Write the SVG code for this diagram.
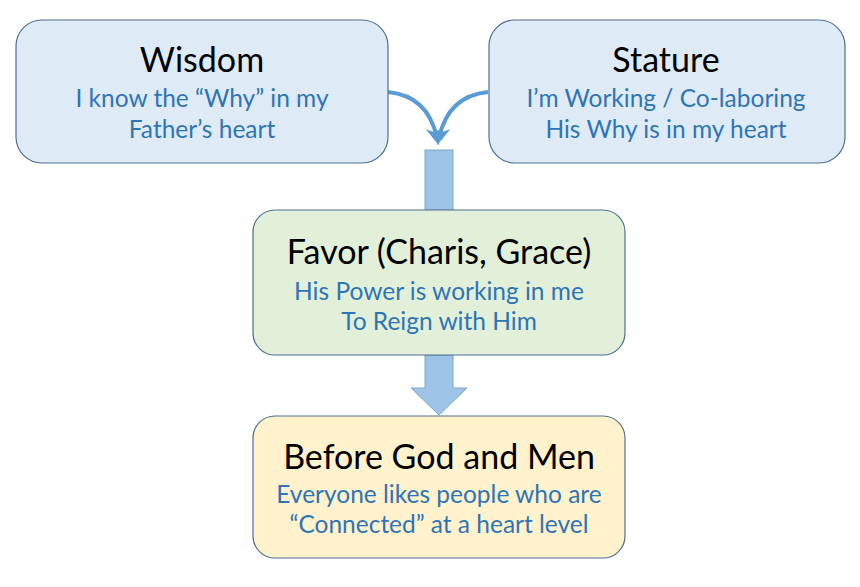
<svg xmlns="http://www.w3.org/2000/svg" width="860" height="587" viewBox="0 0 860 587">
<style>
.box{stroke:#4d6f8f;stroke-width:1.2}
.t{font-family:Lato,"Open Sans",sans-serif;font-size:34px;fill:#000;text-anchor:middle}
.s{font-family:Lato,"Open Sans",sans-serif;font-size:24.5px;fill:#2e75b6;text-anchor:middle}
.blk{fill:#9dc3e6;stroke:#7ea6cc;stroke-width:1}
.cur{fill:none;stroke:#5b9bd5;stroke-width:4}
</style>
<defs>
<marker id="ah" viewBox="0 0 10 10" refX="6" refY="5" markerWidth="4.5" markerHeight="4.5" orient="auto" markerUnits="strokeWidth">
<path d="M0,0 L10,5 L0,10 L3,5 Z" fill="#5b9bd5"/>
</marker>
</defs>
<rect width="860" height="587" fill="#fff"/>
<g id="connectors">
<rect class="blk" x="425" y="150" width="28" height="60"/>
<path class="blk" d="M425,355 L453,355 L453,388 L467,388 L439,415 L411,388 L425,388 Z"/>
<path class="cur" d="M388,92 Q428,96 437,138" marker-end="url(#ah)"/>
<path class="cur" d="M488,92 Q448,96 439,138" marker-end="url(#ah)"/>
</g>
<g id="wisdom">
<rect class="box" x="16" y="20" width="372" height="143" rx="26" fill="#deebf7"/>
<text class="t" x="202" y="72">Wisdom</text>
<text class="s" x="202" y="107">I know the “Why” in my</text>
<text class="s" x="202" y="138">Father’s heart</text>
</g>
<g id="stature">
<rect class="box" x="489" y="20" width="356" height="143" rx="26" fill="#deebf7"/>
<text class="t" x="666" y="72">Stature</text>
<text class="s" x="666" y="107">I’m Working / Co-laboring</text>
<text class="s" x="666" y="138">His Why is in my heart</text>
</g>
<g id="favor">
<rect class="box" x="253" y="210" width="372" height="145" rx="22" fill="#e2f0d9"/>
<text class="t" x="439" y="264">Favor (Charis, Grace)</text>
<text class="s" x="439" y="300">His Power is working in me</text>
<text class="s" x="439" y="330">To Reign with Him</text>
</g>
<g id="before">
<rect class="box" x="253" y="416" width="372" height="142" rx="22" fill="#fff2cc"/>
<text class="t" x="439" y="469">Before God and Men</text>
<text class="s" x="439" y="503">Everyone likes people who are</text>
<text class="s" x="439" y="533">“Connected” at a heart level</text>
</g>
</svg>
